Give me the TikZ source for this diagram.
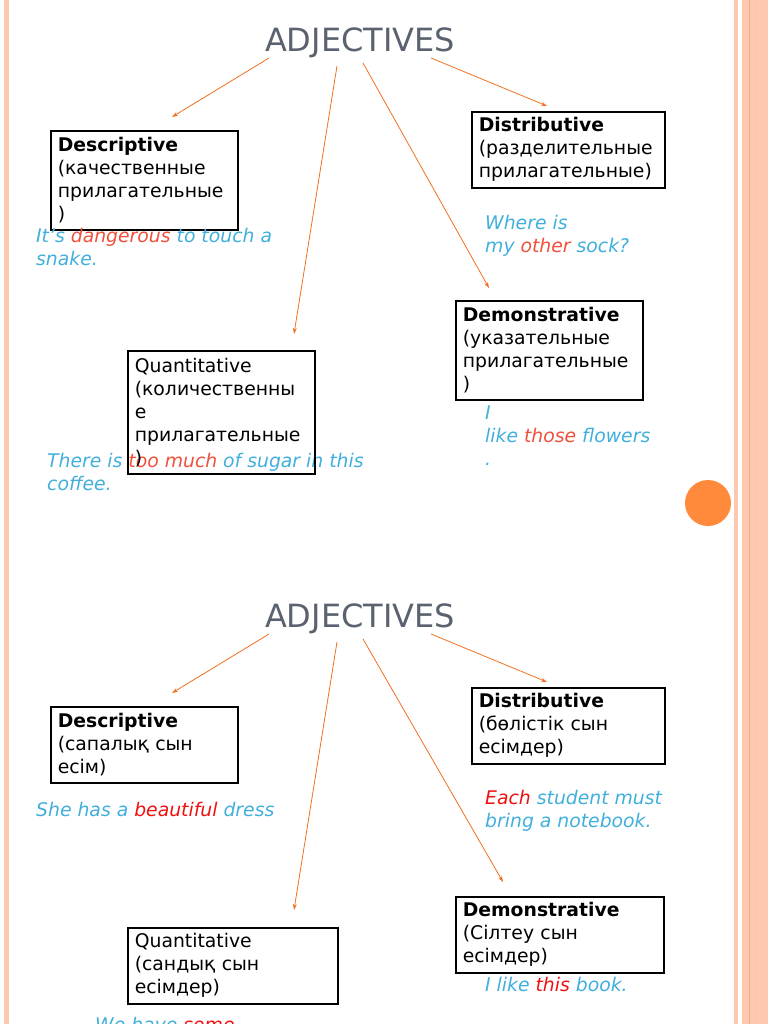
\documentclass[tikz,border=0pt]{standalone}
\usepackage{fontspec}
\setmainfont{DejaVu Sans}
\usetikzlibrary{arrows.meta}
\definecolor{peach}{HTML}{FDC8B0}
\definecolor{peachd}{HTML}{F9A883}
\definecolor{ttl}{HTML}{5A6270}
\definecolor{bl}{HTML}{41AFDC}
\definecolor{rd1}{HTML}{F0503C}
\definecolor{rd2}{HTML}{F01010}
\definecolor{arr}{HTML}{F07020}
\definecolor{circ}{HTML}{FF8A3C}
\begin{document}
\begin{tikzpicture}[x=1pt,y=-1pt,
  box/.style={draw=black,line width=1.6pt,anchor=north west,inner xsep=7pt,inner ysep=4pt,align=left,font=\fontsize{18.8}{23}\selectfont},
  ex/.style={anchor=north west,inner sep=0pt,align=left,text=bl,font=\fontsize{18.8}{23}\selectfont\itshape},
  ttlst/.style={text=ttl,font=\fontsize{32}{36}\selectfont},
  con/.style={draw=arr,line width=0.8pt,-{Stealth[length=6pt,width=4pt]}}]
\useasboundingbox (0,0) rectangle (768,1024);
\clip (0,0) rectangle (768,1024);
\fill[peach] (4,0) rectangle (9,1024);
\fill[peach] (734,0) rectangle (738,1024);
\fill[peach] (742,0) rectangle (768,1024);
\draw[peachd,line width=1pt] (749,0) -- (749,1024);
\draw[peachd!70,line width=0.6pt] (755,0) -- (755,1024);
\fill[circ] (708,503) circle (23);
% ---- top
\node[ttlst] (t1) at (360,43) {ADJECTIVES};
\node[box,minimum width=187,minimum height=99,text width=173] (d1) at (50,130) {\textbf{Descriptive}\\(качественные\\прилагательные\\)};
\node[box,minimum width=193,minimum height=76,text width=179] (s1) at (471,111) {\textbf{Distributive}\\(разделительные\\прилагательные)};
\node[box,minimum width=187,minimum height=99,text width=173] (m1) at (455,300) {\textbf{Demonstrative}\\(указательные\\прилагательные\\)};
\node[ex] (e1) at (36,228) {It's \textcolor{rd1}{dangerous} to touch a\\snake.};
\node[ex] (e2) at (485,215) {Where is\\my \textcolor{rd1}{other} sock?};
\node[ex] (e3) at (485,406) {I\\like \textcolor{rd1}{those} flowers\\.};
\node[ex] (e4) at (47,453) {There is \textcolor{rd1}{too much} of sugar in this\\coffee.};
\node[box,minimum width=187,minimum height=123,text width=173] (q1) at (127,350) {Quantitative\\(количественны\\е\\прилагательные\\)};
\coordinate (a1) at (269,58); \coordinate (b1) at (172,117);
\coordinate (a2) at (337,66); \coordinate (b2) at (294,334);
\coordinate (a3) at (363,63); \coordinate (b3) at (489,288);
\coordinate (a4) at (431,58); \coordinate (b4) at (547,106);
\draw[con] (a1) -- (b1); \draw[con] (a2) -- (b2); \draw[con] (a3) -- (b3); \draw[con] (a4) -- (b4);
% ---- bottom
\node[ttlst] (t2) at (360,619) {ADJECTIVES};
\node[box,minimum width=187,minimum height=76,text width=173] (d2) at (50,706) {\textbf{Descriptive}\\(сапалық сын\\есім)};
\node[box,minimum width=193,minimum height=76,text width=179] (s2) at (471,687) {\textbf{Distributive}\\(бөлістік сын\\есімдер)};
\node[box,minimum width=208,minimum height=76,text width=194] (m2) at (455,896) {\textbf{Demonstrative}\\(Сілтеу сын\\есімдер)};
\node[box,minimum width=210,minimum height=76,text width=196] (q2) at (127,927) {Quantitative\\(сандық сын\\есімдер)};
\node[ex] (f1) at (36,802) {She has a \textcolor{rd2}{beautiful} dress};
\node[ex] (f2) at (485,790) {\textcolor{rd2}{Each} student must\\bring a notebook.};
\node[ex] (f3) at (485,977) {I like \textcolor{rd2}{this} book.};
\node[ex] (f4) at (95,1017) {We have \textcolor{rd2}{some}};
\coordinate (c1) at (269,634); \coordinate (g1) at (172,693);
\coordinate (c2) at (337,642); \coordinate (g2) at (294,910);
\coordinate (c3) at (363,639); \coordinate (g3) at (503,882);
\coordinate (c4) at (431,634); \coordinate (g4) at (547,682);
\draw[con] (c1) -- (g1); \draw[con] (c2) -- (g2); \draw[con] (c3) -- (g3); \draw[con] (c4) -- (g4);
\end{tikzpicture}
\end{document}
